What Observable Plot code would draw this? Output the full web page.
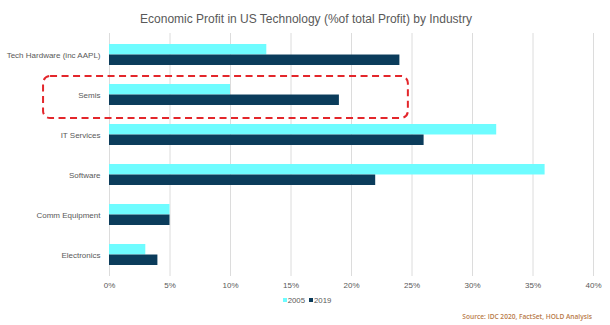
<!DOCTYPE html>
<html>
<head>
<meta charset="utf-8">
<script src="https://cdn.jsdelivr.net/npm/d3@7"></script>
<script src="https://cdn.jsdelivr.net/npm/@observablehq/plot@0.6"></script>
<style>
  body { margin: 0; background: #fff; font-family: "Liberation Sans", Arial, sans-serif; }
  #wrap { width: 610px; height: 325px; position: relative; overflow: hidden; }
  #title { height: 33px; line-height: 38px; text-align: center; font-size: 12px; color: #595959; padding-left: 2px; box-sizing: border-box; }
  #legend { height: 17px; line-height: 18px; font-size: 7.8px; color: #595959; text-align: center; padding-left: 4px; box-sizing: border-box; }
  #legend span.sw { display: inline-block; width: 4px; height: 4px; margin-right: 1px; vertical-align: 1px; }
  #legend span.item { margin: 0 2px; }
  #source { position: absolute; right: 18px; top: 312px; font-family: "Open Sans", sans-serif; font-weight: 600; font-size: 6.6px; color: #b87a48; }
</style>
</head>
<body>
<div id="wrap">
  <div id="title">Economic Profit in US Technology (%of total Profit) by Industry</div>
  <div id="chart"></div>
  <div id="legend"></div>
  <div id="source">Source: IDC 2020, FactSet, HOLD Analysis</div>
</div>
<script>
const categories = ["Tech Hardware (inc AAPL)", "Semis", "IT Services", "Software", "Comm Equipment", "Electronics"];
const series = ["2005", "2019"];
const values2005 = [13, 10, 32, 36, 5, 3];
const values2019 = [24, 19, 26, 22, 5, 4];
const xTicks = [0, 5, 10, 15, 20, 25, 30, 35, 40];
const colors = ["#6efcff", "#0b3c5b"];
// highlight annotation around "Semis" (x extent in % units)
const highlight = [{category: "Semis", x1: -5.45, x2: 24.7}];

const data = categories.flatMap((c, i) => [
  {category: c, year: series[0], value: values2005[i]},
  {category: c, year: series[1], value: values2019[i]}
]);

const height = 259, marginTop = 0, marginBottom = 16;
const paddingInner = 0.475, paddingOuter = 0.27;
const frameH = height - marginTop - marginBottom;
const step = frameH / (categories.length - paddingInner + 2 * paddingOuter);
const bw = step * (1 - paddingInner);

const chart = Plot.plot({
  width: 610,
  height,
  marginTop,
  marginBottom,
  marginLeft: 109,
  marginRight: 17,
  style: {fontFamily: "'Liberation Sans', Arial, sans-serif", fontSize: "8px", color: "#595959", background: "#fff"},
  x: {domain: [0, 40], ticks: xTicks, tickFormat: d => d + "%", tickSize: 0, tickPadding: 6, label: null, grid: false},
  y: {domain: categories, paddingInner, paddingOuter, tickSize: 0, tickPadding: 9, label: null},
  marks: [
    Plot.ruleX(xTicks, {stroke: "#dcdcdc", strokeWidth: 1}),
    Plot.barX(data.filter(d => d.year === series[0]), {x: "value", y: "category", fill: colors[0], insetBottom: bw / 2, insetTop: 0}),
    Plot.barX(data.filter(d => d.year === series[1]), {x: "value", y: "category", fill: colors[1], insetTop: bw / 2, insetBottom: 0}),
    Plot.barX(highlight, {x1: "x1", x2: "x2", y: "category", fill: "none", stroke: "#e3262b", strokeWidth: 2, strokeDasharray: "7,4.5", rx: 7, insetTop: -8, insetBottom: -13})
  ]
});
chart.style.overflow = "visible";
document.getElementById("chart").appendChild(chart);

const legend = document.getElementById("legend");
series.forEach((s, i) => {
  const item = document.createElement("span");
  item.className = "item";
  const sw = document.createElement("span");
  sw.className = "sw";
  sw.style.background = colors[i];
  item.appendChild(sw);
  item.appendChild(document.createTextNode(s));
  legend.appendChild(item);
});
</script>
</body>
</html>
